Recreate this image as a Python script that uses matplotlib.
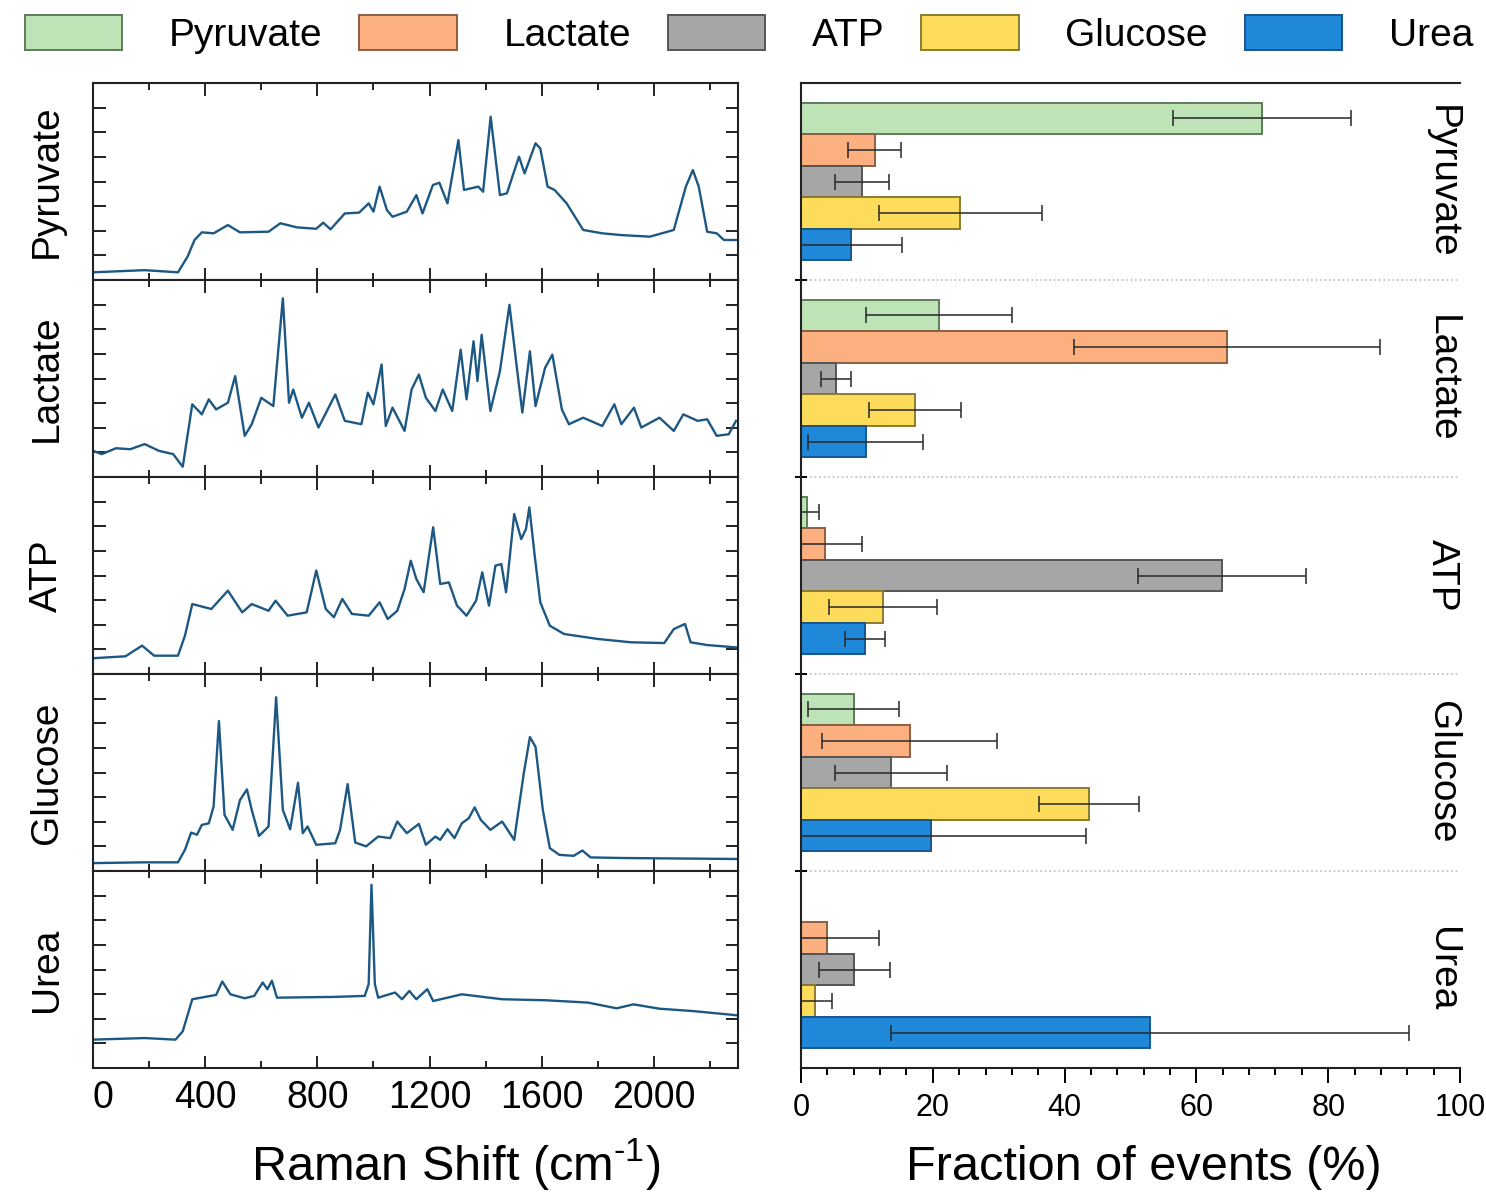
import numpy as np
import matplotlib
matplotlib.use('Agg')
import matplotlib.pyplot as plt
from matplotlib.patches import Patch
from matplotlib.ticker import MultipleLocator

plt.rcParams['font.family'] = ['Liberation Sans', 'DejaVu Sans']
plt.rcParams['mathtext.fontset'] = 'custom'
plt.rcParams['mathtext.rm'] = 'Liberation Sans'

compounds = ['Pyruvate', 'Lactate', 'ATP', 'Glucose', 'Urea']

# spectra (shift in cm-1, intensity in a.u.)
pyruvate_x = [0, 184, 303, 337, 362, 388, 430, 481, 524, 626, 668, 728, 796, 821, 847, 898, 949, 983,
              1000, 1022, 1048, 1068, 1119, 1153, 1175, 1212, 1235, 1264, 1303, 1323, 1374, 1391, 1418,
              1451, 1476, 1519, 1539, 1578, 1595, 1621, 1646, 1689, 1748, 1816, 1884, 1986, 2071, 2114,
              2139, 2160, 2190, 2224, 2250, 2293]
pyruvate_y = [3.9, 5.0, 3.9, 11.8, 20.3, 24.2, 23.7, 27.9, 24.2, 24.5, 28.8, 26.7, 26.0, 29.1, 25.7,
              33.8, 34.2, 38.9, 34.7, 47.4, 35.5, 32.1, 34.7, 43.1, 33.8, 48.2, 49.4, 38.9, 71.0, 45.7,
              47.4, 44.8, 82.9, 43.1, 44.0, 62.6, 54.1, 69.4, 66.8, 47.4, 45.7, 38.9, 25.4, 23.7, 22.8,
              22.0, 25.4, 47.4, 55.8, 47.4, 24.5, 23.7, 20.3, 20.3]

lactate_x = [0, 31, 82, 133, 184, 235, 286, 320, 354, 388, 413, 439, 481, 507, 541, 566, 600, 643, 677,
             699, 714, 745, 770, 804, 864, 898, 957, 980, 1000, 1029, 1044, 1068, 1111, 1136, 1162, 1187,
             1221, 1247, 1281, 1311, 1332, 1357, 1371, 1386, 1417, 1451, 1485, 1510, 1531, 1558, 1578,
             1612, 1638, 1672, 1697, 1748, 1816, 1859, 1884, 1929, 1955, 2020, 2071, 2105, 2156, 2190,
             2224, 2267, 2293]
lactate_y = [13.3, 11.6, 14.6, 14.1, 16.7, 13.3, 11.6, 5.2, 36.9, 31.8, 39.4, 34.3, 37.7, 51.2, 20.9,
             26.8, 40.2, 36.0, 90.7, 37.7, 44.4, 30.1, 37.7, 25.1, 41.9, 28.5, 26.8, 42.8, 36.9, 57.1,
             25.9, 35.2, 23.4, 44.4, 52.0, 40.2, 33.5, 44.4, 33.5, 64.6, 39.4, 68.9, 48.7, 72.2, 33.5,
             53.7, 87.4, 57.1, 32.7, 63.8, 36.0, 55.4, 62.1, 34.3, 26.8, 30.1, 25.9, 36.9, 26.8, 35.2,
             25.1, 30.1, 23.4, 31.8, 28.5, 29.3, 20.9, 21.7, 28.5]

atp_x = [0, 116, 175, 218, 303, 328, 354, 422, 481, 532, 566, 626, 651, 694, 762, 796, 830, 859, 889,
         923, 983, 1022, 1051, 1085, 1111, 1133, 1153, 1179, 1213, 1238, 1269, 1298, 1332, 1366, 1388,
         1412, 1435, 1456, 1473, 1502, 1527, 1544, 1556, 1575, 1595, 1629, 1680, 1799, 1918, 2037,
         2071, 2097, 2111, 2131, 2190, 2293]
atp_y = [8.0, 9.0, 14.4, 9.3, 9.3, 19.5, 35.5, 33.0, 42.3, 31.3, 35.5, 32.1, 37.2, 29.6, 31.3, 52.5,
         33.0, 28.8, 38.1, 30.5, 29.6, 36.4, 27.9, 32.1, 43.1, 57.5, 48.2, 41.5, 74.5, 45.7, 46.5, 34.7,
         29.6, 37.2, 51.6, 34.7, 55.0, 55.8, 41.5, 81.2, 68.5, 73.6, 84.6, 60.1, 36.4, 24.5, 20.3, 17.8,
         16.1, 15.7, 22.8, 24.5, 25.4, 16.1, 14.7, 13.5]

glucose_x = [0, 184, 303, 328, 350, 371, 388, 413, 430, 449, 469, 498, 524, 549, 566, 592, 626, 653,
             677, 703, 731, 748, 765, 796, 864, 881, 908, 935, 974, 1017, 1060, 1085, 1119, 1162, 1187,
             1221, 1238, 1264, 1289, 1315, 1340, 1361, 1383, 1417, 1459, 1502, 1536, 1558, 1578, 1604,
             1629, 1663, 1714, 1745, 1774, 1884, 2293]
glucose_y = [4.0, 4.4, 4.4, 10.8, 19.5, 18.4, 23.4, 24.2, 32.7, 76.1, 28.5, 20.9, 36.0, 41.4, 31.0,
             17.8, 22.6, 88.2, 31.0, 21.2, 44.8, 19.2, 22.6, 13.3, 14.1, 20.9, 44.1, 14.5, 12.5, 17.5,
             16.7, 25.1, 19.2, 23.9, 13.3, 17.5, 15.8, 21.2, 16.7, 24.2, 26.8, 32.3, 25.9, 20.9, 25.1,
             15.8, 49.5, 68.0, 63.0, 31.0, 11.6, 8.2, 7.7, 10.4, 6.9, 6.6, 6.1]

urea_x = [0, 184, 294, 320, 354, 439, 461, 490, 541, 575, 605, 622, 638, 656, 864, 969, 983, 993, 1005,
          1017, 1077, 1102, 1128, 1153, 1192, 1213, 1315, 1459, 1612, 1765, 1867, 1927, 2020, 2139, 2293]
urea_y = [14.4, 15.2, 14.4, 18.6, 34.9, 37.1, 43.9, 37.4, 35.4, 36.6, 43.4, 40.0, 44.3, 35.7, 36.1,
          36.6, 42.6, 93.0, 42.6, 35.7, 38.3, 34.9, 39.1, 34.9, 40.0, 34.0, 37.4, 34.9, 34.4, 33.2,
          30.3, 32.3, 30.1, 28.9, 26.8]

# fraction of events (%) per measured compound, columns = predicted class
pyruvate_frac = [70.0, 11.2, 9.2, 24.2, 7.6]
pyruvate_err = [13.5, 4.0, 4.1, 12.3, 7.8]
lactate_frac = [20.9, 64.7, 5.3, 17.3, 9.8]
lactate_err = [11.1, 23.2, 2.3, 7.0, 8.7]
atp_frac = [0.9, 3.6, 63.9, 12.5, 9.7]
atp_err = [1.9, 5.7, 12.7, 8.2, 3.0]
glucose_frac = [8.0, 16.5, 13.6, 43.7, 19.7]
glucose_err = [6.9, 13.3, 8.5, 7.6, 23.6]
urea_frac = [0.0, 4.0, 8.1, 2.1, 53.0]
urea_err = [0.0, 7.9, 5.4, 2.6, 39.3]

spectra = [(pyruvate_x, pyruvate_y), (lactate_x, lactate_y), (atp_x, atp_y),
           (glucose_x, glucose_y), (urea_x, urea_y)]
fracs = np.array([pyruvate_frac, lactate_frac, atp_frac, glucose_frac, urea_frac])
errs = np.array([pyruvate_err, lactate_err, atp_err, glucose_err, urea_err])

fills = ['#bde3b6', '#fdb07f', '#a6a6a6', '#fddb5b', '#1f88d8']
edges = ['#5e7d59', '#8c6045', '#555555', '#8a7a30', '#17568c']
line_color = '#1d5884'

W, H = 1486, 1196


def box(x0, y0, x1, y1):
    return [x0 / W, 1 - y1 / H, (x1 - x0) / W, (y1 - y0) / H]


fig = plt.figure(figsize=(W / 100, H / 100), dpi=100)

# left: stacked spectra
top, ph = 83, 197
for i, name in enumerate(compounds):
    ax = fig.add_axes(box(93, top + i * ph, 738, top + (i + 1) * ph))
    sx, sy = spectra[i]
    ax.plot(sx, sy, color=line_color, lw=1.7)
    ax.set_xlim(0, 2300)
    ax.set_ylim(0, 100)
    ax.set_xticks(range(0, 2300, 400))
    ax.xaxis.set_minor_locator(MultipleLocator(200))
    ax.set_yticks([12.5 * k for k in range(1, 8)])
    ax.tick_params(which='both', direction='in', top=True, right=True, width=1.4, color='#222222')
    ax.tick_params(which='major', length=9)
    ax.tick_params(which='minor', length=5)
    ax.tick_params(axis='x', labelsize=27, pad=9)
    ax.tick_params(axis='y', labelleft=False)
    if i < 4:
        ax.tick_params(axis='x', labelbottom=False)
    else:
        ax.get_xticklabels()[0].set_horizontalalignment('left')
    for sp in ax.spines.values():
        sp.set_linewidth(1.5)
        sp.set_color('#222222')
    ax.text(-0.071, 0.5, name, transform=ax.transAxes, rotation=90,
            ha='center', va='center', fontsize=28)
    if i == 4:
        ax.set_xlabel(r'Raman Shift (cm$^{\text{-1}}$)', fontsize=35)
        ax.xaxis.set_label_coords(0.563, -0.569)
        ax.xaxis.label.set_va('baseline')

# right: horizontal grouped bars
axb = fig.add_axes(box(801, 83, 1460, 1068))
bh = 0.16
for s in range(5):
    ys = np.arange(5) + 0.1 + bh * s + bh / 2
    keep = fracs[:, s] > 0
    axb.barh(ys[keep], fracs[keep, s], height=bh, color=fills[s], edgecolor=edges[s],
             linewidth=1.4, zorder=2)
    axb.errorbar(fracs[keep, s], ys[keep], xerr=errs[keep, s], fmt='none', ecolor='#2a2a2a',
                 elinewidth=1.4, capsize=6, capthick=1.4, alpha=0.8, zorder=3)
for k in range(1, 5):
    axb.axhline(k, color='#c4c4c4', ls=(0, (1, 1.5)), lw=1.3, zorder=1)
for g, name in enumerate(compounds):
    axb.text(0.973, g + 0.5, name, transform=axb.get_yaxis_transform(), rotation=270,
             ha='center', va='center', fontsize=28)

axb.set_xlim(0, 100)
axb.set_ylim(5, 0)
axb.xaxis.set_major_locator(MultipleLocator(20))
axb.xaxis.set_minor_locator(MultipleLocator(4))
axb.set_yticks([1, 2, 3, 4])
axb.tick_params(axis='y', direction='inout', length=8, width=1.4, labelleft=False)
axb.tick_params(axis='x', which='major', direction='out', length=11, width=1.4, labelsize=22, pad=7)
axb.tick_params(axis='x', which='minor', direction='out', length=5, width=1.4)
axb.spines['right'].set_visible(False)
for sp in ['left', 'bottom', 'top']:
    axb.spines[sp].set_linewidth(1.5)
    axb.spines[sp].set_color('#222222')
axb.set_xlabel('Fraction of events (%)', fontsize=35)
axb.xaxis.set_label_coords(0.52, -0.1137)
axb.xaxis.label.set_va('baseline')

handles = [Patch(facecolor=fills[s], edgecolor=edges[s], linewidth=1.4, label=compounds[s])
           for s in range(5)]
fig.legend(handles=handles, loc='upper left', bbox_to_anchor=(25 / W, 1 - 15 / H), ncol=5,
           frameon=False, fontsize=28, handlelength=2.5, handleheight=1.0, handletextpad=1.2,
           columnspacing=0.95, borderpad=0, borderaxespad=0)

fig.savefig('out.png', dpi=100)
